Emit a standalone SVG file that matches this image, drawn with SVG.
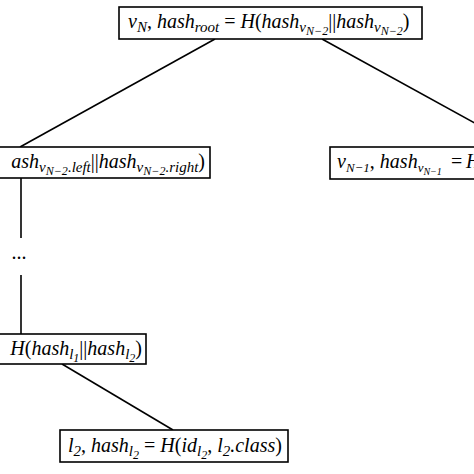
<svg xmlns="http://www.w3.org/2000/svg" width="474" height="474" viewBox="0 0 474 474">
<style>
.box{fill:#fff;stroke:#000;stroke-width:1.6}
.edge{stroke:#000;stroke-width:1.6;fill:none}
text{font-family:"Liberation Serif","DejaVu Serif",serif;font-style:italic;font-size:20px;fill:#000}
.s{font-size:15px}
.ss{font-size:12px}
.s2{font-size:13px}
.ss2{font-size:10px}
.u{font-style:normal}
</style>
<rect width="474" height="474" fill="#fff"/>
<g id="connectors">
<line class="edge" x1="215" y1="39" x2="20" y2="147"/>
<line class="edge" x1="322" y1="39" x2="520" y2="148"/>
<line class="edge" x1="21" y1="178" x2="21" y2="238"/>
<line class="edge" x1="21" y1="275" x2="21" y2="334"/>
<line class="edge" x1="62" y1="364" x2="173" y2="430"/>
</g>
<g id="root">
<rect class="box" x="119" y="7" width="303" height="32"/>
<text x="128" y="28">v<tspan class="s" dy="4">N</tspan><tspan dy="-4" class="u">,</tspan> hash<tspan class="s" dy="4">root</tspan><tspan dy="-4" class="u"> = </tspan>H<tspan class="u">(</tspan>hash<tspan class="s" dy="4">v</tspan><tspan class="ss" dy="3">N−2</tspan><tspan dy="-7" class="u">||</tspan>hash<tspan class="s" dy="4">v</tspan><tspan class="ss" dy="3">N−2</tspan><tspan dy="-7" class="u">)</tspan></text>
</g>
<g id="vN2">
<rect class="box" x="-10" y="147" width="220" height="31"/>
<text x="205" y="168" text-anchor="end">ash<tspan class="s" dy="4">v</tspan><tspan class="ss" dy="3">N−2</tspan><tspan class="s" dy="-3">.left</tspan><tspan dy="-4" class="u">||</tspan>hash<tspan class="s" dy="4">v</tspan><tspan class="ss" dy="3">N−2</tspan><tspan class="s" dy="-3">.right</tspan><tspan dy="-4" class="u">)</tspan></text>
</g>
<g id="vN1">
<rect class="box" x="330" y="147" width="160" height="32"/>
<text x="337" y="168">v<tspan class="s2" dy="4">N−1</tspan><tspan dy="-4" class="u">,</tspan> hash<tspan class="s2" dy="4">v</tspan><tspan class="ss2" dy="3">N−1</tspan><tspan dy="-7" x="451" class="u">=</tspan><tspan x="466">H</tspan></text>
</g>
<g id="dots">
<text x="19" y="259" text-anchor="middle" class="u" font-size="14">...</text>
</g>
<g id="l12">
<rect class="box" x="-10" y="334" width="156" height="30"/>
<text x="142" y="355" text-anchor="end">H<tspan class="u">(</tspan>hash<tspan class="s" dy="4">l</tspan><tspan class="ss" dy="3">1</tspan><tspan dy="-7" class="u">||</tspan>hash<tspan class="s" dy="4">l</tspan><tspan class="ss" dy="3">2</tspan><tspan dy="-7" class="u">)</tspan></text>
</g>
<g id="l2">
<rect class="box" x="60" y="430" width="228" height="32"/>
<text x="68" y="452">l<tspan class="s" dy="4">2</tspan><tspan dy="-4" class="u">,</tspan> hash<tspan class="s" dy="4">l</tspan><tspan class="ss" dy="3">2</tspan><tspan dy="-7" class="u"> = </tspan>H<tspan class="u">(</tspan>id<tspan class="s" dy="4">l</tspan><tspan class="ss" dy="3">2</tspan><tspan dy="-7" class="u">, </tspan>l<tspan class="s" dy="4">2</tspan><tspan dy="-4">.class</tspan><tspan class="u">)</tspan></text>
</g>
</svg>
